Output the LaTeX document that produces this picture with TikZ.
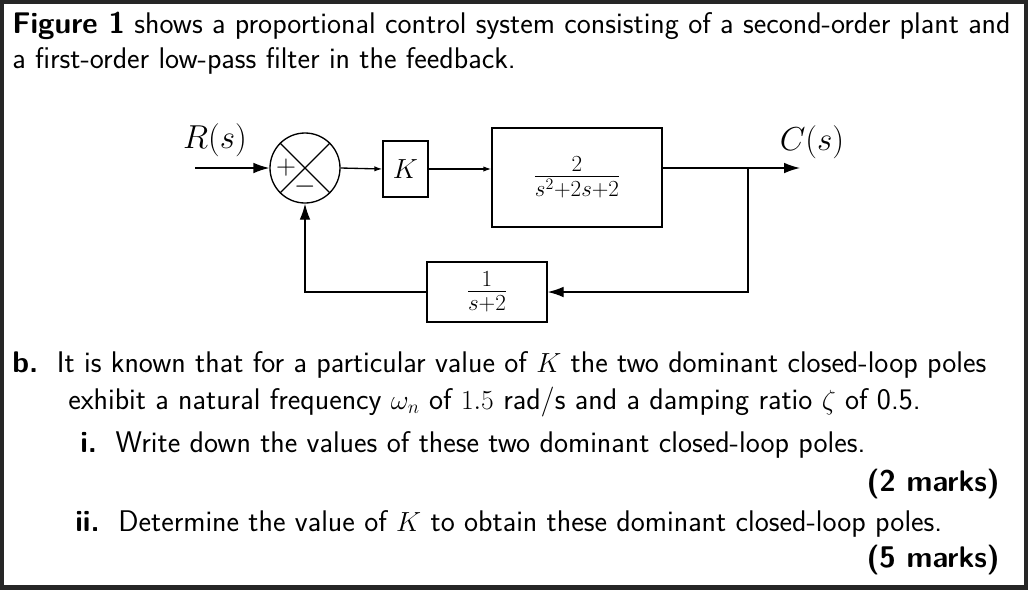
\documentclass[tikz,border=0pt]{standalone}
\usetikzlibrary{arrows.meta}
\begin{document}
\begin{tikzpicture}[x=0.75pt,y=-0.75pt,
  blk/.style={draw,line width=1pt,inner sep=0pt},
  wire/.style={line width=1pt},
  lab/.style={font=\fontsize{20}{24}\selectfont},
  frac/.style={font=\fontsize{25}{30}\selectfont},
  arr/.style={-{Latex[length=12pt,width=8pt]}},
  txt/.style={anchor=base west,inner sep=0pt,font=\sffamily\fontsize{22.4}{27}\selectfont}]
\fill[black!85] (0,0) rectangle (1028,590);
\fill[white] (4,4) rectangle (1024,585);
\useasboundingbox (0,0) rectangle (1028,590);
\node[txt] (t1) at (12,33) {\textbf{Figure 1} shows a proportional control system consisting of a second-order plant and};
\node[txt] (t2) at (12,68) {a first-order low-pass filter in the feedback.};
% diagram
\node[draw,circle,line width=1pt,minimum size=70pt*0.75,inner sep=0pt] (sum) at (305,168) {};
\draw[line width=1pt] (sum.north west) -- (sum.south east) (sum.north east) -- (sum.south west);
\node[lab] at (286,168) {$+$};
\node[lab] at (305,187) {$-$};
\node[blk,lab,minimum width=45*0.75pt,minimum height=56*0.75pt] (K) at (405.5,169) {$K$};
\node[blk,frac,minimum width=170*0.75pt,minimum height=99*0.75pt] (G) at (577,177.5) {$\frac{2}{s^2+2s+2}$};
\node[blk,frac,minimum width=120*0.75pt,minimum height=60*0.75pt] (H) at (487,292) {$\frac{1}{s+2}$};
\node[lab,font=\fontsize{23}{28}\selectfont] (R) at (215,140) {$R(s)$};
\node[lab,font=\fontsize{23}{28}\selectfont] (C) at (812,142) {$C(s)$};
\coordinate (in) at (195,168);
\coordinate (out) at (800,168);
\coordinate (br) at (748,168);
\draw[wire,arr] (in) -- (sum.west);
\draw[wire,-{Latex[length=6pt,width=4pt]}] (sum.east) -- (K.west);
\draw[wire,-{Latex[length=6pt,width=4pt]}] (K.east) -- (K.east -| G.west);
\draw[wire,arr] (G.east |- out) -- (out);
\draw[wire,arr] (br) |- (H.east);
\draw[wire,arr] (H.west) -| (sum.south);
\node[txt] (b) at (12,372) {\textbf{b.}\ \ It is known that for a particular value of $K$ the two dominant closed-loop poles};
\node[txt] (b2) at (68,409) {exhibit a natural frequency $\omega_n$ of $1.5$ rad/s and a damping ratio $\zeta$ of 0.5.};
\node[txt] (i) at (80,452) {\textbf{i.}\ \ Write down the values of these two dominant closed-loop poles.};
\node[txt,anchor=base east] (m1) at (1000,491) {\textbf{(2 marks)}};
\node[txt] (ii) at (75,531) {\textbf{ii.}\ \ Determine the value of $K$ to obtain these dominant closed-loop poles.};
\node[txt,anchor=base east] (m2) at (1000,567) {\textbf{(5 marks)}};
\end{tikzpicture}
\end{document}
